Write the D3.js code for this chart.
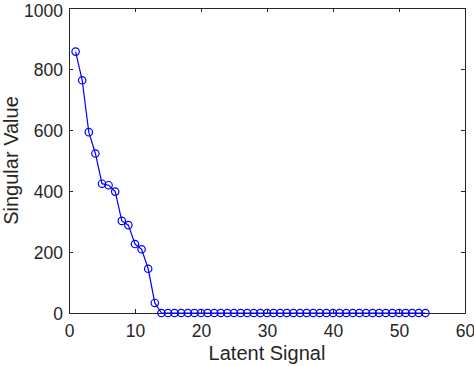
<!DOCTYPE html>
<html><head><meta charset="utf-8">
<script src="https://cdn.jsdelivr.net/npm/d3@7"></script>
<style>body{margin:0;background:#fff;}svg{display:block;}</style>
</head><body>
<svg id="c" width="474" height="366"></svg>
<script>
const signalIndex = d3.range(1, 55);
const singularValues = [857, 763, 593, 523, 424, 419, 398, 302, 288, 226, 209, 145, 33,
  0,0,0,0,0,0,0,0,0,0,0,0,0,0,0,0,0,0,0,0,0,0,0,0,0,0,0,0,0,0,0,0,0,0,0,0,0,0,0,0,0];
const xTicks = [0, 10, 20, 30, 40, 50, 60];
const yTicks = [0, 200, 400, 600, 800, 1000];
const xLabel = "Latent Signal";
const yLabel = "Singular Value";

const svg = d3.select("#c");
const L = 69, R = 465, T = 8, B = 313;
const x = d3.scaleLinear().domain([0, 60]).range([L, R]);
const y = d3.scaleLinear().domain([0, 1000]).range([B, T]);
const font = "'Liberation Sans', Arial, Helvetica, sans-serif";

const data = signalIndex.map((s, i) => ({s, v: singularValues[i]}));

// axes box
const ax = svg.append("g");
const tl = 4;
ax.append("g").attr("transform", `translate(0,${B})`)
  .call(d3.axisBottom(x).tickValues(xTicks).tickSize(-tl).tickPadding(12).tickFormat(d3.format("d")));
ax.append("g").attr("transform", `translate(0,${T})`)
  .call(d3.axisTop(x).tickValues(xTicks).tickSize(-tl).tickFormat(""));
const yAx = ax.append("g").attr("transform", `translate(${L},0)`)
  .call(d3.axisLeft(y).tickValues(yTicks).tickSize(-tl).tickPadding(6).tickFormat(d3.format("d")));
ax.append("g").attr("transform", `translate(${R},0)`)
  .call(d3.axisRight(y).tickValues(yTicks).tickSize(-tl).tickFormat(""));
ax.selectAll(".domain").attr("stroke", "#262626").attr("stroke-width", 1);
ax.selectAll(".tick line").attr("stroke", "#262626");
ax.selectAll(".tick text").attr("font-family", font).attr("font-size", 17.5).attr("fill", "#262626");
yAx.selectAll(".tick text").attr("y", d => d === 1000 ? 2.5 : 1);

// line
svg.append("path").datum(data)
  .attr("fill", "none").attr("stroke", "#0000ff").attr("stroke-width", 1.2)
  .attr("d", d3.line().x(d => x(d.s)).y(d => y(d.v)));
svg.append("g").selectAll("circle").data(data).join("circle")
  .attr("cx", d => x(d.s)).attr("cy", d => y(d.v)).attr("r", 3.7)
  .attr("fill", "none").attr("stroke", "#0000ff").attr("stroke-width", 1.2);

// labels
svg.append("text").attr("x", (L + R) / 2).attr("y", 360).attr("text-anchor", "middle")
  .attr("font-family", font).attr("font-size", 20).attr("fill", "#262626").text(xLabel);
svg.append("text").attr("transform", `translate(18,${(T + B) / 2}) rotate(-90)`).attr("text-anchor", "middle")
  .attr("font-family", font).attr("font-size", 20).attr("fill", "#262626").text(yLabel);
</script>
</body></html>
